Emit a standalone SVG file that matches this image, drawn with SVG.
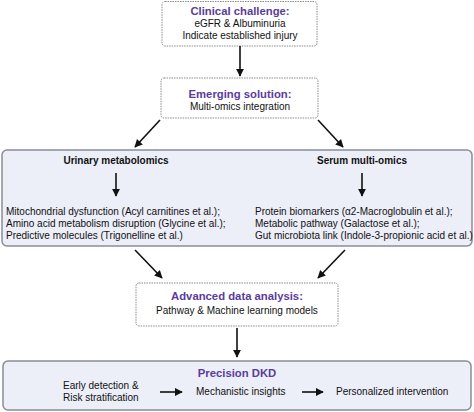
<svg xmlns="http://www.w3.org/2000/svg" width="474" height="412" viewBox="0 0 474 412">
<defs>
<marker id="ah" viewBox="0 0 10 10" refX="9" refY="5" markerWidth="5" markerHeight="5" orient="auto" markerUnits="strokeWidth">
<path d="M0,0 L10,5 L0,10 z" fill="#111"/>
</marker>
<style>
text{font-family:"Liberation Sans",Arial,sans-serif;fill:#111;}
.t{font-size:11.3px;font-weight:bold;fill:#5a3c9c;}
.b{font-size:10px;}
.h{font-size:10px;font-weight:bold;}
.dot{fill:#fff;stroke:#8a8a8a;stroke-width:1;stroke-dasharray:1.5 1;}
.pan{fill:#eceef8;stroke:#8a8d99;stroke-width:1.5;}
.c{stroke:#111;stroke-width:1.6;fill:none;marker-end:url(#ah);}
</style>
</defs>
<rect width="474" height="412" fill="#fff"/>
<g id="clinical">
<rect class="dot" x="162" y="1.5" width="155" height="44.5" rx="3"/>
<text class="t" x="240" y="15" text-anchor="middle">Clinical challenge:</text>
<text class="b" x="240" y="27" text-anchor="middle">eGFR &amp; Albuminuria</text>
<text class="b" x="240" y="39" text-anchor="middle">Indicate established injury</text>
</g>
<g id="emerging">
<rect class="dot" x="161" y="78" width="157" height="40" rx="3"/>
<text class="t" x="240" y="98" text-anchor="middle">Emerging solution:</text>
<text class="b" x="240" y="110" text-anchor="middle">Multi-omics integration</text>
</g>
<g id="omics">
<rect class="pan" x="2" y="150" width="470" height="96" rx="5"/>
<text class="h" x="116" y="164" text-anchor="middle">Urinary metabolomics</text>
<text class="b" x="6" y="215">Mitochondrial dysfunction (Acyl carnitines et al.);</text>
<text class="b" x="6" y="227">Amino acid metabolism disruption (Glycine et al.);</text>
<text class="b" x="6" y="239">Predictive molecules (Trigonelline et al.)</text>
<text class="h" x="362" y="164" text-anchor="middle">Serum multi-omics</text>
<text class="b" x="255" y="215">Protein biomarkers (α2-Macroglobulin et al.);</text>
<text class="b" x="255" y="227">Metabolic pathway (Galactose et al.);</text>
<text class="b" x="255" y="239">Gut microbiota link (Indole-3-propionic acid et al.)</text>
</g>
<g id="analysis">
<rect class="dot" x="136" y="283" width="202" height="43" rx="3"/>
<text class="t" x="237" y="300" text-anchor="middle">Advanced data analysis:</text>
<text class="b" x="237" y="314" text-anchor="middle">Pathway &amp; Machine learning models</text>
</g>
<g id="precision">
<rect class="pan" x="3" y="361" width="468" height="49" rx="5"/>
<text class="t" x="237" y="377" text-anchor="middle">Precision DKD</text>
<text class="b" x="63" y="389">Early detection &amp;</text>
<text class="b" x="63" y="401">Risk stratification</text>
<text class="b" x="196" y="395">Mechanistic insights</text>
<text class="b" x="336" y="395">Personalized intervention</text>
</g>
<g id="connectors">
<line class="c" x1="240" y1="46" x2="240" y2="76"/>
<line class="c" x1="160" y1="120" x2="135" y2="147"/>
<line class="c" x1="318" y1="120" x2="343" y2="147"/>
<line class="c" x1="116" y1="173" x2="116" y2="196"/>
<line class="c" x1="362" y1="173" x2="362" y2="196"/>
<line class="c" x1="135" y1="250" x2="162" y2="278"/>
<line class="c" x1="345" y1="250" x2="318" y2="278"/>
<line class="c" x1="237" y1="328" x2="237" y2="357"/>
<line class="c" x1="160" y1="392" x2="182" y2="392"/>
<line class="c" x1="302" y1="392" x2="323" y2="392"/>
</g>
</svg>
